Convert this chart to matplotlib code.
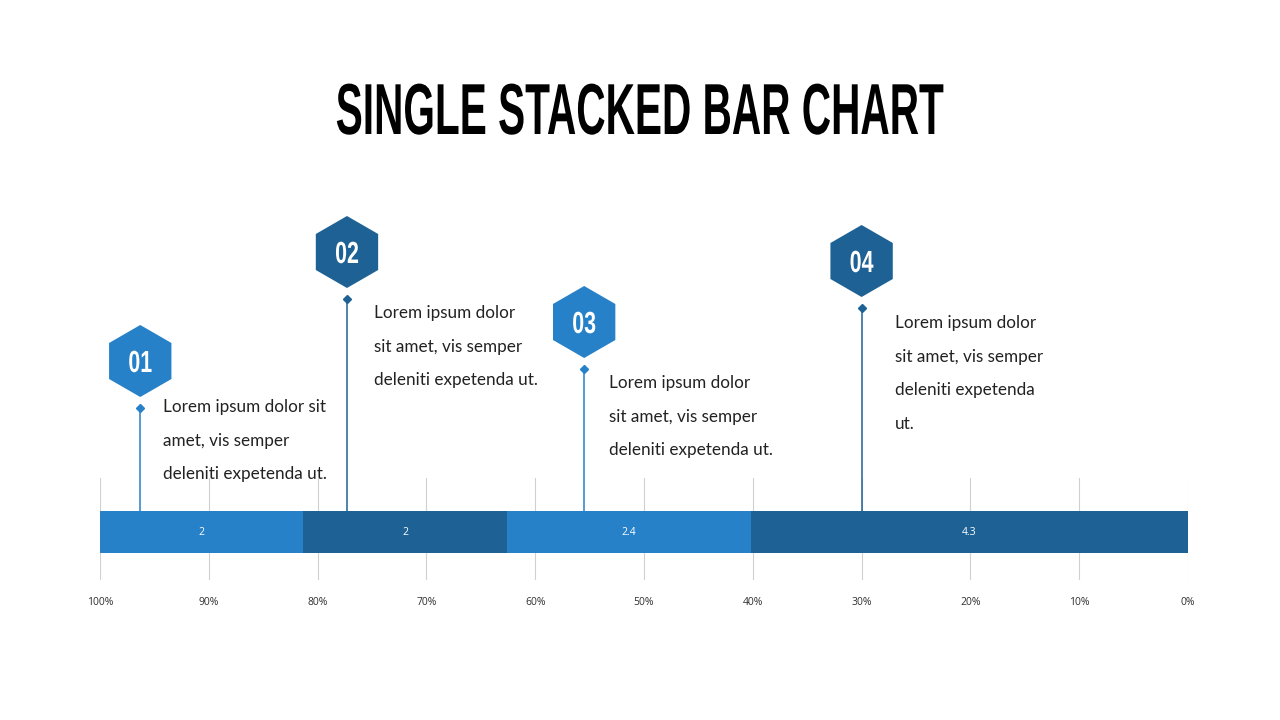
import matplotlib
matplotlib.use("Agg")
import matplotlib.pyplot as plt
from matplotlib import patheffects
from matplotlib.patches import RegularPolygon
from matplotlib.transforms import Affine2D, blended_transform_factory

# data
values = [2, 2, 2.4, 4.3]
value_labels = ["2", "2", "2.4", "4.3"]
steps = ["01", "02", "03", "04"]
notes = [
    "Lorem ipsum dolor sit\namet, vis semper\ndeleniti expetenda ut.",
    "Lorem ipsum dolor\nsit amet, vis semper\ndeleniti expetenda ut.",
    "Lorem ipsum dolor\nsit amet, vis semper\ndeleniti expetenda ut.",
    "Lorem ipsum dolor\nsit amet, vis semper\ndeleniti expetenda\nut.",
]
tick_values = [100, 90, 80, 70, 60, 50, 40, 30, 20, 10, 0]

# layout of the callouts (percent position on axis, pixel heights)
pointer_pct = [96.3, 77.3, 55.5, 30.0]
hex_y = [361, 252, 322, 261]
note_top = [399, 305, 375, 315]
note_x_off = [23, 27, 25, 33]

light = "#2681C8"
dark = "#1E6295"
colors = [light, dark, light, dark]

W, H = 1280, 720


class Squeeze(patheffects.AbstractPathEffect):
    """narrow the glyphs horizontally around x = cx (display px)"""

    def __init__(self, sx, cx):
        super().__init__()
        self.sx = sx
        self.cx = cx

    def draw_path(self, renderer, gc, tpath, affine, rgbFace=None):
        a = affine + Affine2D().translate(-self.cx, 0).scale(self.sx, 1).translate(self.cx, 0)
        renderer.draw_path(gc, tpath, a, rgbFace)


fig = plt.figure(figsize=(12.8, 7.2), dpi=100)

# overlay in pixel coords
ov = fig.add_axes([0, 0, 1, 1])
ov.set_xlim(0, W)
ov.set_ylim(H, 0)
ov.axis("off")

# bar axes: x 100..1188 px, y 478..580 px
ax = fig.add_axes([100 / W, 1 - 580 / H, 1088 / W, 102 / H])
ax.patch.set_alpha(0)
total = sum(values)
pct = [v / total * 100 for v in values]
start = 100.0
for p, c, lab in zip(pct, colors, value_labels):
    ax.barh(0, -p, left=start, height=1.0, color=c, zorder=3)
    ax.text(start - p / 2, 0, lab, color="white", ha="center", va="center",
            fontsize=7.5, family="Open Sans", zorder=4)
    start -= p
ax.set_xlim(100, 0)
ax.set_ylim(-1.143, 1.286)
ax.set_xticks(tick_values)
ax.set_xticklabels([f"{t}%" for t in tick_values], fontsize=7.5,
                   color="#303030", family="Open Sans")
ax.set_yticks([])
ax.tick_params(axis="x", length=0, pad=12)
ax.grid(axis="x", color="#d0d0d0", linewidth=0.8, zorder=0)
for s in ax.spines.values():
    s.set_visible(False)

# callouts
tr = blended_transform_factory(ax.transData, ov.transData)
R = 36
for i in range(4):
    x = pointer_pct[i]
    hy = hex_y[i]
    top = hy + R + 11
    ax.plot([x, x], [top, 511], transform=tr, color=colors[i], lw=1.1,
            clip_on=False, zorder=5)
    ax.plot([x], [top], transform=tr, marker="D", ms=4.5, color=colors[i],
            clip_on=False, zorder=6)
    px = ax.transData.transform((x, 0))[0]
    hexp = RegularPolygon((px, hy), numVertices=6, radius=R, orientation=0,
                          facecolor=colors[i], edgecolor="none")
    ov.add_patch(hexp)
    ov.text(px, hy + 3, steps[i], ha="center", va="center", color="white",
            fontsize=22, fontweight="bold", family="Liberation Sans",
            path_effects=[Squeeze(0.7, px)])
    ov.text(px + note_x_off[i], note_top[i], notes[i], ha="left", va="top",
            fontsize=12.3, family="Lato", color="#222222", linespacing=2.36)

ov.text(W / 2, 115, "SINGLE STACKED BAR CHART", ha="center", va="center",
        fontsize=52, fontweight="bold", family="Liberation Sans",
        color="black", path_effects=[Squeeze(0.562, W / 2)])

fig.savefig("out.png", dpi=100, facecolor="white")
